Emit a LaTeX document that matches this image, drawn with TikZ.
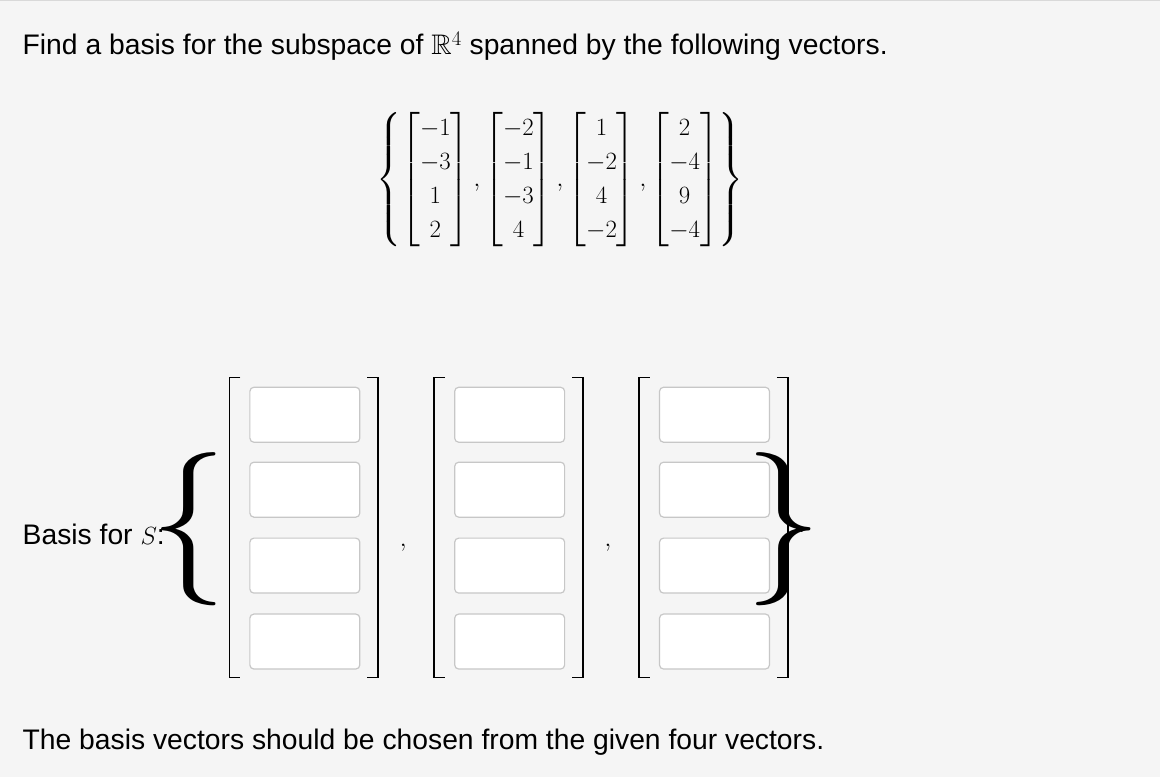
\documentclass[tikz,border=0pt]{standalone}
\usepackage{amsmath,amssymb,graphicx}
\usepackage{fontspec}
\setmainfont{Liberation Sans}
\setmathrm{Latin Modern Roman}
\begin{document}
\begin{tikzpicture}[x=1pt,y=-1pt,
  inbox/.style={draw=black!22,fill=white,rounded corners=4pt,line width=1.2pt,minimum width=110pt,minimum height=55pt,inner sep=0pt},
  brk/.style={line width=1.6pt},
  txt/.style={anchor=west,inner sep=0pt,font=\fontsize{28.3}{34}\selectfont}]
\fill[black!4] (0,0) rectangle (1160,778);
\draw[black!15,line width=1pt] (0,0.5) -- (1160,0.5);
\useasboundingbox (0,0) rectangle (1160,778);
\node[txt] (q) at (22,46) {Find a basis for the subspace of $\mathbb{R}^4$ spanned by the following vectors.};
\node[inner sep=0pt,font=\fontsize{28}{36}\selectfont] (set) at (560,180) {\renewcommand{\arraystretch}{0.95}$\left\{\begin{bmatrix}-1\\-3\\1\\2\end{bmatrix},\begin{bmatrix}-2\\-1\\-3\\4\end{bmatrix},\begin{bmatrix}1\\-2\\4\\-2\end{bmatrix},\begin{bmatrix}2\\-4\\9\\-4\end{bmatrix}\right\}$};
\node[txt] (lab) at (22,535) {Basis for $S$:};
\foreach \c/\x in {1/249,2/454,3/659}{
  \foreach \r/\y in {1/387,2/462,3/538,4/614}{
    \node[inbox,anchor=north west] (b\c\r) at (\x,\y) {};
  }
}
\foreach \x in {0,205,410}{
  \draw[brk] (240+\x,378) -- (229+\x,378) -- (229+\x,678) -- (240+\x,678);
  \draw[brk] (367+\x,378) -- (378+\x,378) -- (378+\x,678) -- (367+\x,678);
}
\node[font=\fontsize{24}{26}\selectfont] (c1) at (403,548) {$,$};
\node[font=\fontsize{24}{26}\selectfont] (c2) at (608,548) {$,$};
\node[inner sep=0pt] (lb) at (188,530) {\resizebox{!}{115pt}{$\{$}};
\node[inner sep=0pt] (rb) at (784,530) {\resizebox{!}{115pt}{$\}$}};
\node[font=\fontsize{24}{26}\selectfont] (dot) at (802,532) {$.$};
\node[txt] (foot) at (22,743) {The basis vectors should be chosen from the given four vectors.};
\end{tikzpicture}
\end{document}
